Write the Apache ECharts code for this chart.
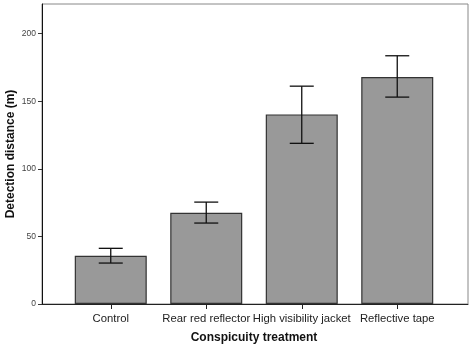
<!DOCTYPE html>
<html><head><meta charset="utf-8">
<script src="https://cdn.jsdelivr.net/npm/echarts@6/dist/echarts.min.js"></script>
<style>html,body{margin:0;padding:0;background:#fff}#c{width:474px;height:347px}</style>
</head><body><div id="c"></div>
<script>
const categories = ['Control', 'Rear red reflector', 'High visibility jacket', 'Reflective tape'];
const means = [35.7, 67.5, 140.3, 167.9];
const errLow = [30.3, 59.9, 118.9, 153.1];
const errHigh = [41.2, 75.4, 161.2, 183.7];
const yTicks = [0, 50, 100, 150, 200];

const chart = echarts.init(document.getElementById('c'), null, {renderer: 'canvas'});
const font = 'Liberation Sans, Arial, sans-serif';
chart.setOption({
  animation: false,
  grid: [
    {left: 42, right: 6, top: 4, bottom: 43, show: true, borderColor: '#888', borderWidth: 1,
     containLabel: false, outerBoundsMode: 'none'},
    {left: 63, right: 29, top: 4, bottom: 43, containLabel: false, outerBoundsMode: 'none'}
  ],
  xAxis: [
    {gridIndex: 0, type: 'value', min: 0, max: 1, show: true,
     axisLine: {show: true, lineStyle: {color: '#222', width: 1}}, axisTick: {show: false},
     axisLabel: {show: false}, splitLine: {show: false}},
    {gridIndex: 1, type: 'category', data: categories,
     axisLine: {show: false},
     axisTick: {show: true, alignWithLabel: true, length: 5, lineStyle: {color: '#222'}},
     axisLabel: {fontSize: 11.3, color: '#222', fontFamily: font, margin: 9, interval: 0, hideOverlap: false},
     name: 'Conspicuity treatment', nameLocation: 'middle', nameGap: 28, nameMoveOverlap: false,
     nameTextStyle: {fontSize: 12, fontWeight: 'bold', color: '#111', fontFamily: font}}
  ],
  yAxis: [
    {gridIndex: 0, type: 'value', min: 0, max: 222,
     axisLine: {show: true, lineStyle: {color: '#111', width: 1}},
     axisTick: {show: true, length: 4, customValues: yTicks, lineStyle: {color: '#333'}},
     axisLabel: {fontSize: 8.5, color: '#444', fontFamily: font, margin: 6, customValues: yTicks},
     splitLine: {show: false},
     name: 'Detection distance (m)', nameLocation: 'middle', nameGap: 25, nameMoveOverlap: false,
     nameTextStyle: {fontSize: 12, fontWeight: 'bold', color: '#111', fontFamily: font}},
    {gridIndex: 1, type: 'value', min: 0, max: 222, show: false, splitLine: {show: false}}
  ],
  series: [
    {type: 'bar', xAxisIndex: 1, yAxisIndex: 1, data: means, barWidth: 72,
     itemStyle: {color: '#999999', borderColor: '#333', borderWidth: 1.2}},
    {type: 'custom', xAxisIndex: 1, yAxisIndex: 1,
     data: categories.map((c, i) => [i, errLow[i], errHigh[i]]),
     renderItem: function (params, api) {
       const lo = api.coord([api.value(0), api.value(1)]);
       const hi = api.coord([api.value(0), api.value(2)]);
       const hw = 12;
       const st = {stroke: '#111', lineWidth: 1.3};
       return {type: 'group', children: [
         {type: 'line', shape: {x1: lo[0], y1: lo[1], x2: hi[0], y2: hi[1]}, style: st},
         {type: 'line', shape: {x1: lo[0] - hw, y1: lo[1], x2: lo[0] + hw, y2: lo[1]}, style: st},
         {type: 'line', shape: {x1: hi[0] - hw, y1: hi[1], x2: hi[0] + hw, y2: hi[1]}, style: st}
       ]};
     }, z: 5}
  ]
});
</script></body></html>
